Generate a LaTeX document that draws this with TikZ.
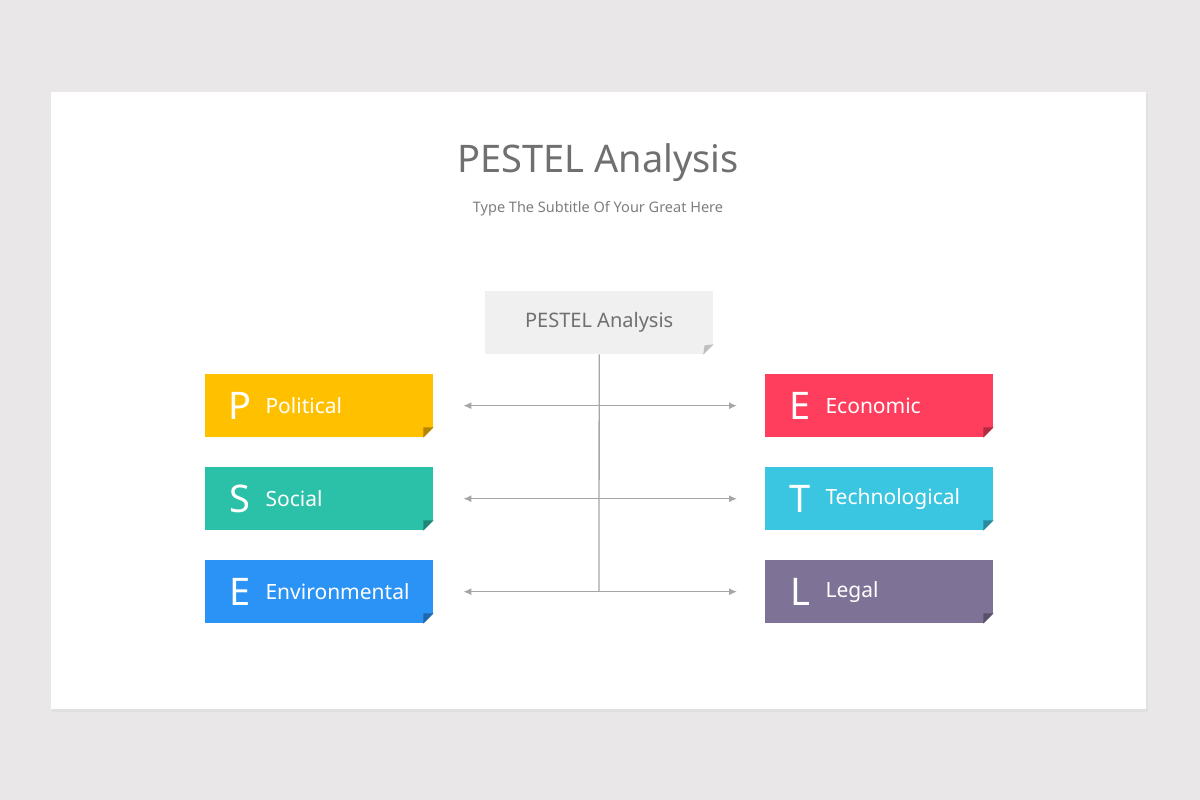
\documentclass[tikz,border=0pt]{standalone}
\usepackage{fontspec}
\setmainfont{Noto Sans}
\usetikzlibrary{arrows.meta}
\definecolor{cP}{HTML}{FFC000}\definecolor{cS}{HTML}{2BC0A8}\definecolor{cE}{HTML}{2B93F5}
\definecolor{cEc}{HTML}{FF3D5D}\definecolor{cT}{HTML}{3AC5E0}\definecolor{cL}{HTML}{7E7396}
\definecolor{bg}{HTML}{E9E7E8}\definecolor{ln}{HTML}{A6A6A6}\definecolor{tx}{HTML}{707070}
\tikzset{
 card/.style={minimum width=228pt,minimum height=63pt,inner sep=0pt,draw=none},
 lab/.style={text=white,font=\fontsize{21}{24}\selectfont,anchor=west},
 let/.style={text=white,font=\bfseries\fontsize{38}{40}\selectfont},
 conn/.style={draw=ln,line width=1.3pt},
 arr/.style={conn,{Latex[length=8pt,width=7pt]}-{Latex[length=8pt,width=7pt]}}
}
\newcommand{\pcard}[6]{% name, x, y, color, letter, label
 \node[card,anchor=north west,fill=#4] (#1) at (#2,#3) {};
 \fill[#4!70!black] ($(#1.south east)+(-10,0)$) -- ($(#1.south east)+(0,-10)$) -- ($(#1.south east)+(-10,-10)$) -- cycle;
 \fill[white] ($(#1.south east)$) -- ($(#1.south east)+(-10,0)$) -- ($(#1.south east)+(0,-10)$) -- cycle;
 \fill[#4!70!black] ($(#1.south east)+(-10,0)$) -- ($(#1.south east)+(0,-10)$) -- ($(#1.south east)+(-10,-1)$) -- cycle;
 \node[let] (#1l) at ($(#1.west)+(35,0)$) {#5};
 \node[lab] (#1t) at ($(#1.west)+(57,0)$) {#6};
}
\usetikzlibrary{calc}
\begin{document}
\begin{tikzpicture}[x=1pt,y=-1pt]
\fill[bg] (0,0) rectangle (1200,800);
\useasboundingbox (0,0) rectangle (1200,800);
\fill[black!12] (52,94) rectangle (1148,712);
\fill[white] (51,92) rectangle (1146,709);
\node[text=tx,font=\fontsize{38}{44}\selectfont] (title) at (598,163) {PESTEL Analysis};
\node[text=tx!90,font=\fontsize{14.5}{17}\selectfont] (sub) at (598,209) {Type The Subtitle Of Your Great Here};
\node[card,anchor=north west,fill=black!6] (c) at (485,291) {};
\node[text=tx,font=\fontsize{20}{24}\selectfont] (ct) at (c.center) {PESTEL Analysis};
\fill[black!25] ($(c.south east)+(-10,0)$) -- ($(c.south east)+(0,-10)$) -- ($(c.south east)+(-10,-1)$) -- cycle;
\fill[white] (c.south east) -- ($(c.south east)+(-10,0)$) -- ($(c.south east)+(0,-10)$) -- cycle;
\fill[black!25] ($(c.south east)+(-10,0)$) -- ($(c.south east)+(0,-10)$) -- ($(c.south east)+(-9,-9)$) -- cycle;
\pcard{p}{205}{374}{cP}{P}{Political}
\pcard{s}{205}{467}{cS}{S}{Social}
\pcard{e}{205}{560}{cE}{E}{Environmental}
\pcard{ec}{765}{374}{cEc}{E}{Economic}
\pcard{t}{765}{467}{cT}{T}{Technological}
\pcard{l}{765}{560}{cL}{L}{Legal}
\coordinate (vb) at (599,591);
\draw[conn] (c.south) -- (vb);
\draw[arr] ($(p.east)+(30,0)$) -- ($(ec.west)+(-28,0)$);
\draw[arr] ($(s.east)+(30,0)$) -- ($(t.west)+(-28,0)$);
\draw[arr] ($(e.east)+(30,0)$) -- ($(l.west)+(-28,0)$);
\end{tikzpicture}
\end{document}
